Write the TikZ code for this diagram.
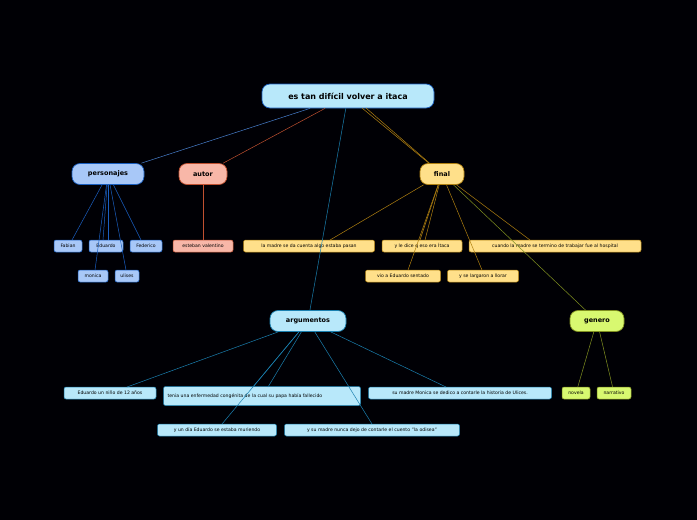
\documentclass[tikz,border=0pt]{standalone}
\usepackage{fontspec}
\setmainfont{DejaVu Sans}
\begin{document}
\begin{tikzpicture}[x=1pt,y=-1pt,
 base/.style={draw,rounded corners=2pt,inner sep=0pt,minimum height=12pt,font=\fontsize{4.6}{5.4}\selectfont,text=black,line width=0.5pt},
 main/.style={draw,rounded corners=8pt,inner sep=0pt,minimum height=21pt,font=\bfseries\fontsize{6.5}{7}\selectfont,text=black,line width=0.7pt},
 pers/.style={fill=cPe,draw=cPeD},
 aut/.style={fill=cAu,draw=cAuD},
 fin/.style={fill=cFi,draw=cFiD},
 arg/.style={fill=cAr,draw=cArD},
 gen/.style={fill=cGe,draw=cGeD},
 e/.style={line width=0.5pt}]
\definecolor{cPe}{HTML}{A8C8F8}\definecolor{cPeD}{HTML}{1A5FC0}
\definecolor{cAu}{HTML}{F8B7A8}\definecolor{cAuD}{HTML}{C05030}
\definecolor{cFi}{HTML}{FFE08A}\definecolor{cFiD}{HTML}{B08010}
\definecolor{cAr}{HTML}{B8E8FA}\definecolor{cArD}{HTML}{1A80B0}
\definecolor{cGe}{HTML}{D8F870}\definecolor{cGeD}{HTML}{809020}
\fill[black!98!blue] (0,0) rectangle (697,520);
\useasboundingbox (0,0) rectangle (697,520);
\node[main,fill=cAr,draw=cPeD,minimum width=172pt,minimum height=24pt,font=\bfseries\fontsize{8}{9}\selectfont] (root) at (348,96) {es tan difícil volver a itaca};
\node[main,pers,minimum width=72pt] (pe) at (108,174) {personajes};
\node[main,aut,minimum width=48pt] (au) at (203,174) {autor};
\node[main,fin,minimum width=44pt] (fi) at (442,174) {final};
\node[main,arg,minimum width=76pt] (ar) at (308,321) {argumentos};
\node[main,gen,minimum width=54pt] (ge) at (597,321) {genero};
\node[base,pers,minimum width=28pt] (p1) at (68,246) {Fabian};
\node[base,pers,minimum width=34pt] (p2) at (106,246) {Eduardo};
\node[base,pers,minimum width=32pt] (p3) at (146,246) {Federico};
\node[base,pers,minimum width=30pt] (p4) at (93,276) {monica};
\node[base,pers,minimum width=24pt] (p5) at (127,276) {ulises};
\node[base,aut,minimum width=60pt] (a1) at (203,246) {esteban valentino};
\node[base,fin,minimum width=131pt] (f1) at (309,246) {la madre se da cuenta algo estaba pasan};
\node[base,fin,minimum width=80pt] (f2) at (422,246) {y le dice q eso era Ítaca};
\node[base,fin,minimum width=172pt] (f3) at (555,246) {cuando la madre se termino de trabajar fue al hospital};
\node[base,fin,minimum width=75pt] (f4) at (403,276) {vio a Eduardo sentado};
\node[base,fin,minimum width=71pt] (f5) at (483,276) {y se largaron a llorar};
\node[base,arg,minimum width=92pt] (r1) at (110,393) {Eduardo un niño de 12 años};
\node[base,arg,minimum width=197pt,minimum height=19pt,align=left,text width=189pt] (r2) at (262,396) {tenia una enfermedad congénita de la cual su papa había fallecido};
\node[base,arg,minimum width=183pt] (r3) at (460,393) {su madre Monica se dedico a contarle la historia de Ulices.};
\node[base,arg,minimum width=119pt] (r4) at (217,430) {y un día Eduardo se estaba muriendo};
\node[base,arg,minimum width=175pt] (r5) at (372,430) {y su madre nunca dejo de contarle el cuento "la odisea"};
\node[base,gen,minimum width=28pt] (g1) at (576,393) {novela};
\node[base,gen,minimum width=34pt] (g2) at (614,393) {narrativo};
% edges
\draw[e,draw=cPeD!80] (root) -- (pe);
\draw[e,draw=cAuD] (root) -- (au);
\draw[e,draw=cFiD] (362,108) -- (fi);
\draw[e,draw=cFiD] (366,108) -- (fi);
\draw[e,draw=cArD] (root) -- (ar);
\draw[e,draw=cGeD] (fi) -- (ge);
\foreach \n/\x in {p1/72,p2/103,p2/108,p3/141}{\draw[e,draw=cPeD] (pe) -- (\x,240);}
\draw[e,draw=cPeD] (pe) -- (95,270); \draw[e,draw=cPeD] (pe) -- (126,270);
\draw[e,draw=cAuD] (au) -- (a1);
\draw[e,draw=cFiD] (fi) -- (330,240);
\draw[e,draw=cFiD] (fi) -- (420,240); \draw[e,draw=cFiD] (fi) -- (425,240);
\draw[e,draw=cFiD] (fi) -- (530,240);
\draw[e,draw=cFiD] (fi) -- (408,270); \draw[e,draw=cFiD] (fi) -- (482,270);
\draw[e,draw=cArD] (ar) -- (127,387);
\draw[e,draw=cArD] (ar) -- (253,387); \draw[e,draw=cArD] (ar) -- (268,387);
\draw[e,draw=cArD] (ar) -- (446,387);
\draw[e,draw=cArD] (ar) -- (372,424);
\draw[e,draw=cArD] (ar) -- (222,424);
\draw[e,draw=cGeD] (ge) -- (g1); \draw[e,draw=cGeD] (ge) -- (g2);
\end{tikzpicture}
\end{document}
